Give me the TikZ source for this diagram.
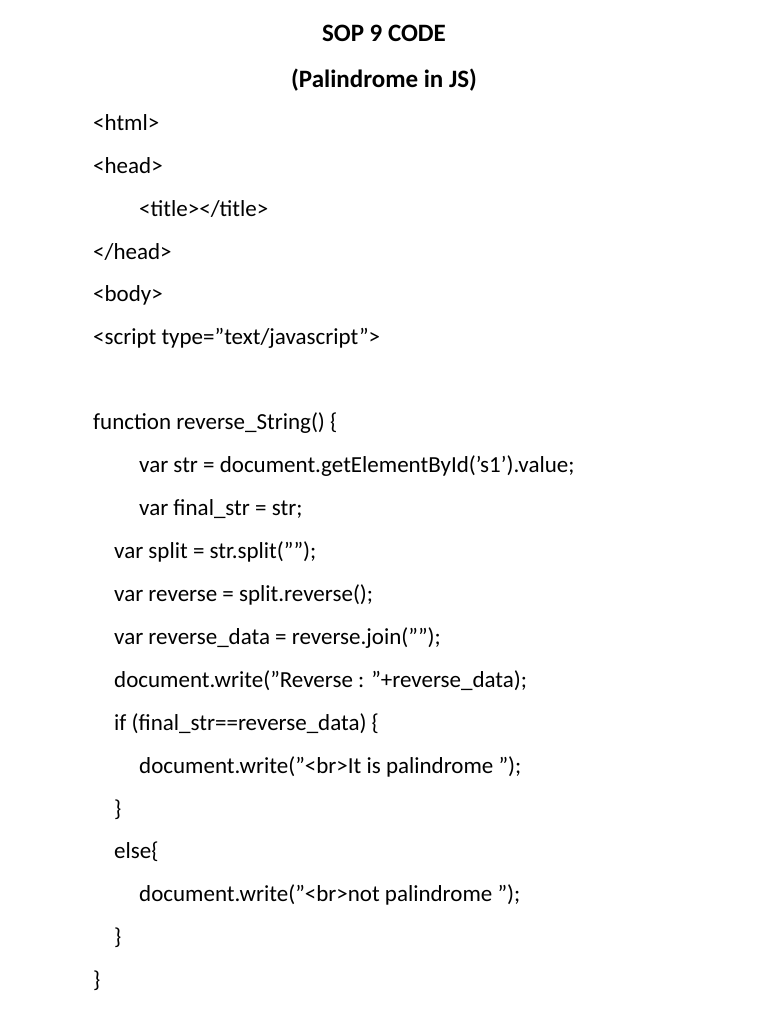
\documentclass[tikz,border=0pt]{standalone}
\usepackage{fontspec}
\defaultfontfeatures{}
\setmainfont{Carlito}
\begin{document}
\begin{tikzpicture}[x=1pt,y=-1pt,
  ln/.style={anchor=west,inner sep=0pt,font=\fontsize{23}{27}\selectfont},
  hd/.style={anchor=center,inner sep=0pt,font=\fontsize{25}{29}\selectfont\bfseries}]
\useasboundingbox[fill=white] (0,0) rectangle (768,1024);
\node[hd] (t1) at (384,33) {SOP 9 CODE};
\node[hd] (t2) at (384,80) {(Palindrome in JS)};
\node[ln] (l1) at (93,123) {<html>};
\node[ln] (l2) at (93,166) {<head>};
\node[ln] (l3) at (139,209) {<title></title>};
\node[ln] (l4) at (93,252) {</head>};
\node[ln] (l5) at (93,295) {<body>};
\node[ln] (l6) at (93,338) {<script type="text/javascript">};
\node[ln] (l7) at (93,423) {function reverse\_String() \{};
\node[ln] (l8) at (139,466) {var str = document.getElementById('s1').value;};
\node[ln] (l9) at (139,509) {var final\_str = str;};
\node[ln] (l10) at (114,552) {var split = str.split("");};
\node[ln] (l11) at (114,595) {var reverse = split.reverse();};
\node[ln] (l12) at (114,638) {var reverse\_data = reverse.join("");};
\node[ln] (l13) at (114,681) {document.write("Reverse : "+reverse\_data);};
\node[ln] (l14) at (114,724) {if (final\_str==reverse\_data) \{};
\node[ln] (l15) at (139,767) {document.write("<br>It is palindrome ");};
\node[ln] (l16) at (114,810) {\}};
\node[ln] (l17) at (114,852) {else\{};
\node[ln] (l18) at (139,895) {document.write("<br>not palindrome ");};
\node[ln] (l19) at (114,938) {\}};
\node[ln] (l20) at (93,981) {\}};
\end{tikzpicture}
\end{document}
